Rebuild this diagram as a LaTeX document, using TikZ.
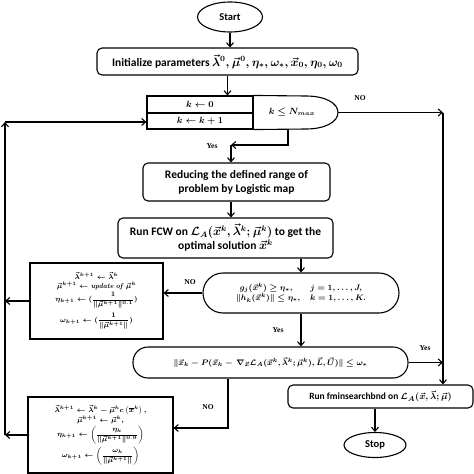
\documentclass[tikz,border=0pt]{standalone}
\usepackage{amsmath,amssymb}
\usepackage[no-math]{fontspec}
\setmainfont{Carlito}
\newfontfamily\lblfont{Liberation Serif}
\usetikzlibrary{shapes.geometric,arrows.meta,positioning}
\tikzset{
    flowbox/.style={
        draw,
        rounded corners=5pt,
        line width=1.1pt,
        align=center,
        inner sep=2pt,
        font=\bfseries\boldmath\fontsize{11.5}{14}\selectfont
    },
    sqbox/.style={
        draw,
        line width=1.1pt,
        align=center,
        inner sep=1pt,
        font=\boldmath\fontsize{7.5}{9}\selectfont
    },
    term/.style={
        draw,
        ellipse,
        line width=1.1pt,
        inner sep=0pt,
        font=\bfseries\fontsize{10.5}{12}\selectfont
    },
    pill/.style={
        draw,
        line width=1.1pt,
        align=center,
        font=\boldmath\fontsize{8}{10.5}\selectfont
    },
    flow/.style={line width=1.1pt, -{Straight Barb[length=4pt,width=7pt]}},
    link/.style={line width=1.1pt},
    lbl/.style={font=\lblfont\bfseries\fontsize{7.5}{8}\selectfont}
}

\begin{document}
\begin{tikzpicture}[x=1pt,y=-1pt]
  \useasboundingbox (0,0) rectangle (474,474);

  \node at (230,17) (start) [term, minimum width=65pt, minimum height=30pt] {Start};
  \node at (227.5,61.5) (init) [flowbox, minimum width=261pt, minimum height=27pt] {Initialize parameters $\vec{\lambda}^0, \vec{\mu}^0, \eta_{*}, \omega_{*}, \vec{x}_0, \eta_0, \omega_0$};
  \draw[flow] (start) -- (start |- init.north);

  % counter block
  \node at (200,104.5) (kzero) [sqbox, minimum width=106pt, minimum height=17pt, font=\boldmath\fontsize{9}{10}\selectfont] {$k \leftarrow 0$};
  \node at (200,121) (kinc) [sqbox, minimum width=106pt, minimum height=16pt, font=\boldmath\fontsize{9}{10}\selectfont] {$k \leftarrow k+1$};
  \coordinate (dtip) at (338,112.5);
  \coordinate (dbot) at (288,129);
  \draw[link] (kzero.north east) -- (306,96) .. controls (325,96) and (338,103) .. (dtip)
    .. controls (338,122) and (325,129) .. (306,129) -- (kinc.south east);
  \node at (292,112.5) (kcond) [font=\boldmath\fontsize{9}{10}\selectfont] {$k \le N_{max}$};
  \draw[flow] (init.south) -- (init.south |- kzero.north);

  \coordinate (rtop) at (443,112.5);
  \node at (360,98) (lno1) [lbl] {NO};
  \draw[flow] (dtip) -- (rtop);

  \coordinate (ybend) at (288,145);
  \coordinate (yjoin) at (231,145);
  \node at (212,146) (lyes1) [lbl] {Yes};
  \draw[flow] (dbot) -- (ybend) -- (yjoin);

  \node at (236.5,182) (reduce) [flowbox, minimum width=187pt, minimum height=38pt] {Reducing the defined range of\\problem by Logistic map};
  \draw[flow] (yjoin) -- (yjoin |- reduce.north);

  \node at (225.5,238) (fcw) [flowbox, minimum width=215pt, minimum height=40pt] {Run FCW on $\mathcal{L}_A(\vec{x}^k,\vec{\lambda}^k;\vec{\mu}^k)$ to get the\\optimal solution $\vec{x}^k$};
  \draw[flow] (reduce.south -| yjoin) -- (fcw.north -| yjoin);

  % feasibility test
  \node at (301,293) (cons) [pill, rounded corners=20pt, minimum width=196pt, minimum height=40pt] {$g_j(\vec{x}^k) \ge \eta_{*}, \qquad j = 1, \dots, J,$\\$\|h_k(\vec{x}^k)\| \le \eta_{*}, \quad k = 1, \dots, K.$};
  \draw[flow] (fcw.south -| cons) -- (cons.north);

  \node at (96.5,301) (upd1) [sqbox, minimum width=133pt, minimum height=76pt] {$\vec{\lambda}^{k+1} \leftarrow \vec{\lambda}^k$\\$\vec{\mu}^{k+1} \leftarrow \mathit{update\ of}\ \vec{\mu}^k$\\[1pt]$\eta_{k+1} \leftarrow (\dfrac{1}{\|\vec{\mu}^{k+1}\|^{0.1}})$\\[3pt]$\omega_{k+1} \leftarrow (\dfrac{1}{\|\vec{\mu}^{k+1}\|})$};
  \node at (190,282) (lno2) [lbl] {NO};
  \draw[flow] (cons.west) -- (cons.west -| upd1.east);

  % stationarity test
  \node at (270.5,362.5) (crit) [pill, rounded corners=15pt, minimum width=275pt, minimum height=31pt] {$\|\vec{x}_k - P(\vec{x}_k - \,\nabla_{\vec{x}}\mathcal{L}_A(\vec{x}^k,\vec{\lambda}^k;\vec{\mu}^k), \vec{L}, \vec{U})\| \le \omega_{*}$};
  \node at (278,330) (lyes2) [lbl] {Yes};
  \draw[flow] (cons.south) -- (cons.south |- crit.north);

  \node at (380.5,396.5) (run) [flowbox, minimum width=185pt, minimum height=23pt, font=\bfseries\boldmath\fontsize{9.5}{11}\selectfont] {Run fminsearchbnd on $\mathcal{L}_A(\vec{x},\vec{\lambda};\vec{\mu})$};
  \draw[flow] (rtop) -- (rtop |- run.north);
  \node at (425,348) (lyes3) [lbl] {Yes};
  \draw[flow] (crit.east) -- (crit.east -| rtop);

  \node at (375,445) (stop) [term, minimum width=62pt, minimum height=25pt] {Stop};
  \draw[flow] (run.south -| stop) -- (stop.north);

  \node at (100.5,435) (upd2) [sqbox, minimum width=145pt, minimum height=76pt] {$\vec{\lambda}^{k+1} \leftarrow \vec{\lambda}^k - \vec{\mu}^k c\left(\overline{x}^k\right),$\\$\vec{\mu}^{k+1} \leftarrow \vec{\mu}^k,$\\[1pt]$\eta_{k+1} \leftarrow \left(\dfrac{\eta_k}{\|\vec{\mu}^{k+1}\|^{0.9}}\right)$\\[2pt]$\omega_{k+1} \leftarrow \left(\dfrac{\omega_k}{\|\vec{\mu}^{k+1}\|}\right)$};
  \coordinate (nbend) at (228,428);
  \node at (208,407) (lno3) [lbl] {NO};
  \draw[flow] (crit.south -| nbend) -- (nbend) -- (nbend -| upd2.east);

  % back to the counter
  \coordinate (lbar) at (5,122);
  \draw[flow] (upd1.west) -- (upd1.west -| lbar);
  \draw[flow] (upd2.west) -- (upd2.west -| lbar);
  \draw[flow] (upd2.west -| lbar) -- (lbar);
  \draw[flow] (lbar) -- (lbar -| kinc.west);

\end{tikzpicture}
\end{document}
